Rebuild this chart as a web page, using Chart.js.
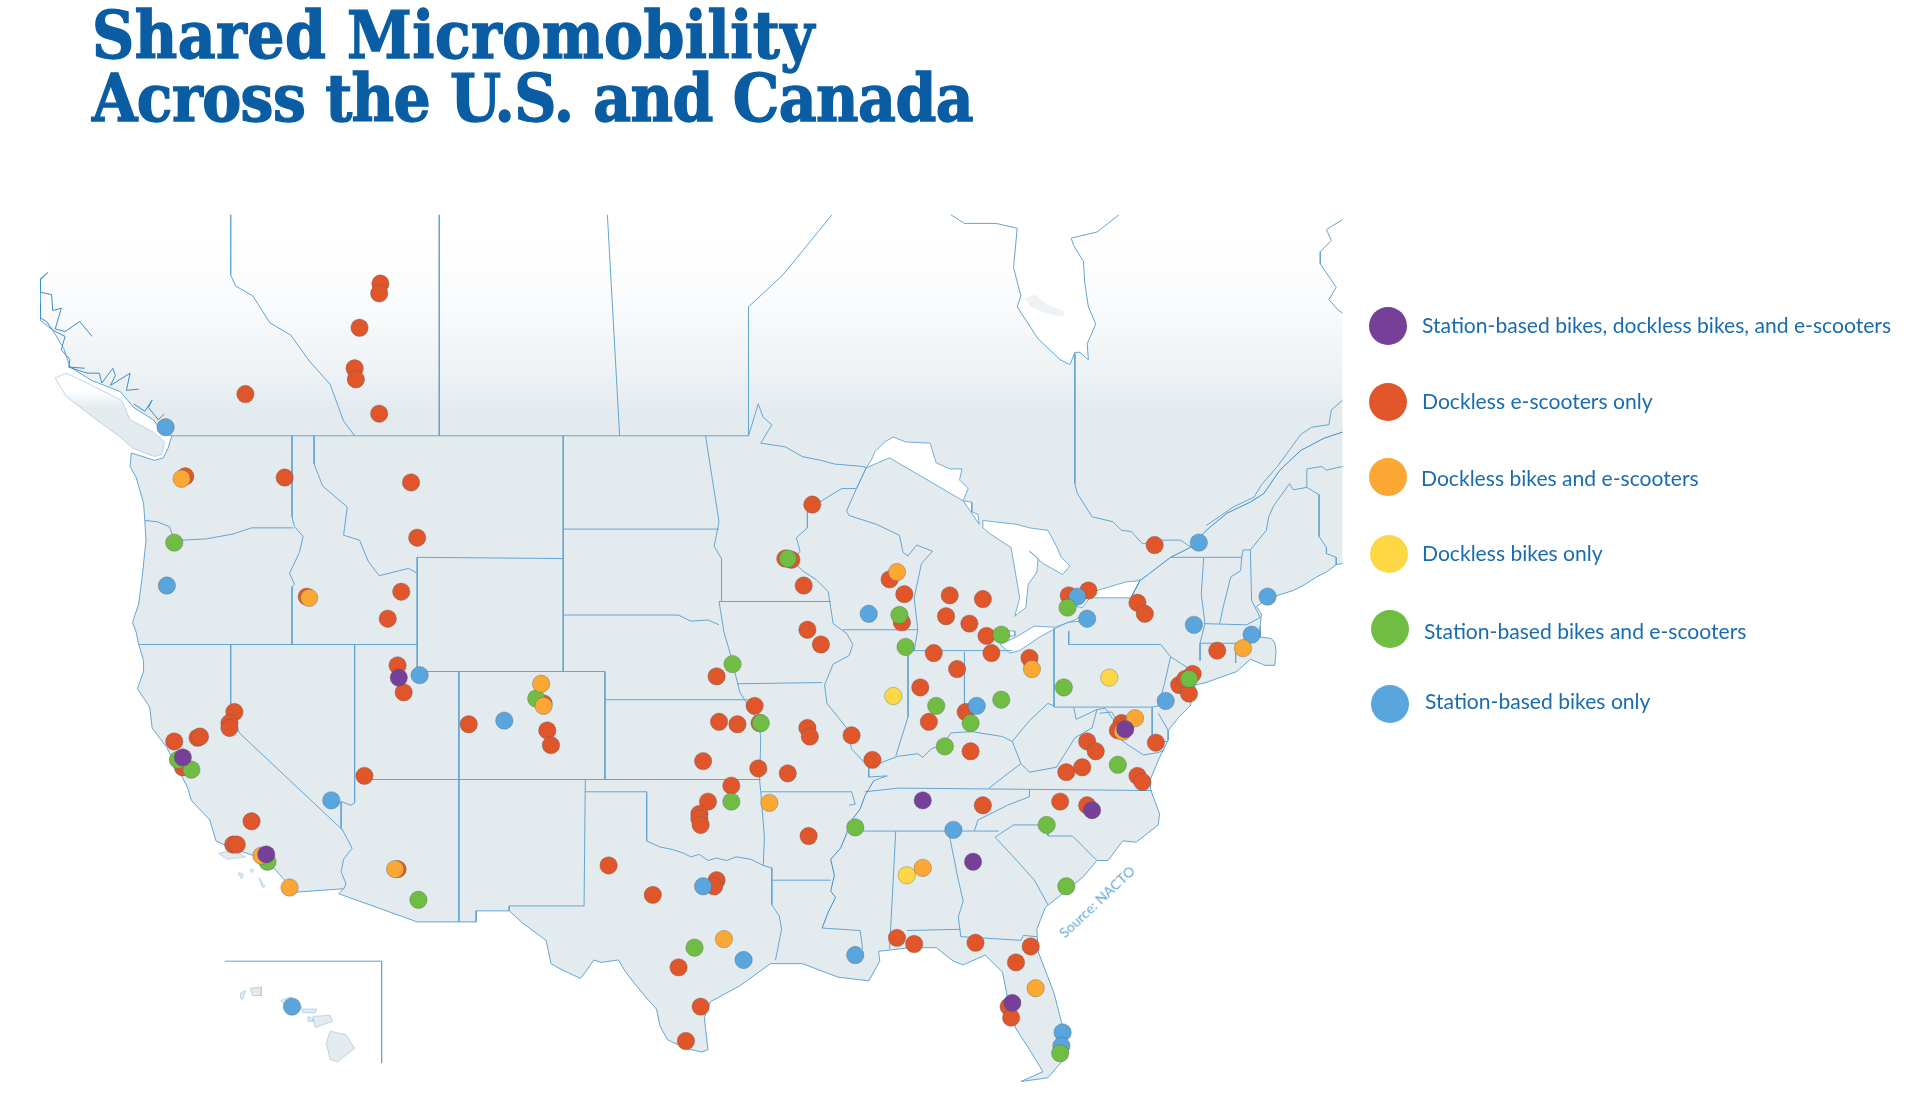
<!DOCTYPE html>
<html>
<head>
  <title>Shared Micromobility Across the U.S. and Canada</title>
  <style>
    html, body { margin: 0; padding: 0; background: #fff; overflow: hidden; }
    #wrap { position: relative; width: 1924px; height: 1095px; }
    canvas { position: absolute; left: 0; top: 0; }
    h1 {
      position: absolute; left: 92px; top: 4px; margin: 0;
      font: bold 65px/63px "DejaVu Serif Condensed", "DejaVu Serif", serif;
      -webkit-text-stroke: 1.3px #0a5da3;
      color: #0a5da3; white-space: nowrap;
    }
    h1 span { display: block; }
    .key { position: absolute; font: 21.1px Lato, sans-serif; color: #1a6cb0; white-space: nowrap; line-height: 38px; }
    .key i { position: absolute; width: 38px; height: 38px; border-radius: 50%; }
    #source {
      position: absolute; left: 1048px; top: 893px; font: 14px Lato, sans-serif; color: #62a8d6;
      transform: rotate(-43deg); transform-origin: center; white-space: nowrap;
    }
  </style>
</head>
<body>
<div id="wrap">
  <canvas id="map" width="1924" height="1095"></canvas>
  <h1><span style="letter-spacing:0.45px">Shared Micromobility</span><span style="letter-spacing:-0.55px">Across the U.S. and Canada</span></h1>
  <div id="legend"></div>
  <div id="source">Source: NACTO</div>
</div>

<script src="https://cdn.jsdelivr.net/npm/chart.js"></script>
<script>
// map units are the picture scaled to 1568 wide
const mapW = 1568, mapH = 892;

// --- categories
const categories = [
  'Station-based bikes, dockless bikes, and e-scooters',
  'Dockless e-scooters only',
  'Dockless bikes and e-scooters',
  'Dockless bikes only',
  'Station-based bikes and e-scooters',
  'Station-based bikes only'
];
const categoryColors = ['#763f98', '#e05529', '#fba733', '#fdd844', '#70bd44', '#58a6dd'];

// --- cities, one list per category
const allThree = [[325,552],[149,617],[217,696],[917,594],[752,652],[890,660],[793,702],[825,817]];
const scootersOnly = [[310,231],[309,239],[293,267],[289,300],[290,309],[309,337],[200,321],
  [151,388],[232,389],[335,393],[340,438],[327,482],[250,486],[316,504],[324,542],[329,564],
  [191,580],[187,589],[187,593],[142,604],[161,601],[163,600],[149,625],[297,632],[205,669],[190,688],[193,688],
  [324,708],[382,590],[443,573],[446,595],[449,607],[496,705],[532,729],[584,717],[582,722],[553,788],[571,820],[559,848],
  [584,551],[586,588],[601,590],[615,575],[619,589],[573,620],[618,626],[642,630],[596,640],[577,653],[570,663],[570,667],[571,672],[659,681],
  [658,593],[660,600],[694,599],[711,619],[662,411],[640,455],[645,456],[655,477],[658,513],[669,525],
  [725,472],[737,484],[735,507],[774,485],[801,488],[771,502],[790,508],[804,518],[761,532],[780,545],[808,532],[839,536],
  [757,588],[787,580],[791,612],[750,560],[801,656],[871,485],[887,481],[927,491],[933,500],[941,444],[992,530],
  [961,558],[966,553],[972,549],[969,565],[914,589],[911,595],[917,592],[886,604],[893,612],[942,605],[869,629],[882,625],
  [927,632],[931,637],[864,653],[886,656],[731,764],[745,769],[795,768],[840,771],[828,784],[822,820],[824,829]];
const docklessBoth = [[148,390],[252,487],[441,557],[443,575],[213,697],[236,723],[322,708],[627,654],[731,466],[841,545],
  [925,585],[915,596],[1013,528],[752,707],[590,765],[844,805]];
const bikesOnly = [[728,567],[904,552],[739,713]];
const stationScooters = [[142,442],[437,569],[145,619],[156,627],[218,702],[341,733],[597,541],[620,589],[596,653],[642,455],
  [733,501],[738,527],[816,517],[870,495],[867,560],[763,575],[816,570],[791,589],[770,608],[911,623],[969,553],[697,674],
  [853,672],[869,722],[566,772],[864,858]];
const stationOnly = [[135,348],[136,477],[342,550],[411,587],[270,652],[238,820],[708,500],[878,486],[886,504],[977,442],
  [1033,486],[973,509],[1020,517],[950,571],[796,575],[777,676],[573,722],[606,782],[697,778],[866,841],[865,852]];

// --- coastline, clockwise from the Maine end to the top of B.C.
const coast = [[1094,459],[1089,460],[1081,466],[1073,470],[1062,477],[1054,481],[1038,486],[1030,490],[1024,494],[1028,500],[1027,510],[1027,519],
  [1036,520],[1039,524],[1040,530],[1039,542],[1031,542],[1019,537],[1008,547],[983,556],[974,558],[970,575],[961,584],[952,595],[952,603],
  [945,617],[937,636],[938,644],[945,663],[944,672],[926,686],[915,685],[903,701],[894,701],[883,714],[866,728],[852,739],[845,757],
  [846,775],[859,809],[868,844],[866,864],[854,878],[832,881],[850,873],[839,855],[828,838],[821,812],[817,792],[803,778],[785,786],
  [777,783],[763,772],[741,772],[716,775],[717,783],[708,799],[683,796],[654,785],[628,785],[603,803],[579,816],[574,829],[577,855],
  [572,857],[559,854],[544,847],[538,836],[535,822],[526,812],[517,801],[510,792],[504,782],[490,784],[484,782],[477,792],[473,797],[458,790],[449,785],[447,775],[445,766],[426,752],[415,742],[388,742],
  [388,751],[340,751],[276,728],[280,724],[238,727],[233,718],[224,708],[207,697],[186,690],[176,685],[171,668],[156,652],[153,642],
  [147,630],[140,617],[136,609],[124,593],[122,576],[112,561],[117,547],[117,538],[113,525],[111,515],[108,507],[113,492],[116,469],
  [119,440],[118,424],[117,410],[111,389],[106,380],[107,369],[126,375],[133,373],[137,365],[140,355],[133,353],[125,342],[109,332],
  [98,319],[75,310],[57,299],[52,284],[43,269],[33,261],[33,228],[39,222]];
const landCorners = [[39,175],[1094,175]];

const vancouverIsland = [[45,308],[54,304],[71,312],[99,326],[106,342],[125,352],[134,360],[132,370],[126,372],[108,365],[98,356],[76,340],[54,323],[45,308]];
const manitoulin = [[809,432],[820,432],[838,434],[836,443],[823,438],[809,432]];
const akimiski = [[835,243],[844,240],[852,247],[868,254],[866,258],[852,255],[840,250],[835,243]];
const hawaii = [
  [[269,840],[282,843],[289,854],[275,865],[269,863],[266,850],[269,840]],
  [[255,828],[269,827],[271,832],[257,837],[255,828]],
  [[229,815],[237,812],[246,821],[237,827],[229,815]],
  [[246,822],[258,822],[257,825],[247,825],[246,822]],
  [[251,828],[255,830],[255,832],[251,832],[251,828]],
  [[204,805],[213,804],[213,811],[206,811],[204,805]],
  [[196,809],[200,807],[198,814],[196,813],[196,809]],
  [[178,695],[190,693],[200,698],[185,700],[178,695]],
  [[194,711],[198,712],[197,716],[194,711]],
  [[204,708],[207,709],[205,711],[204,708]],
  [[211,715],[216,722],[214,723],[211,715]]
];

// --- water on top of the land
const bays = [
  [[1094,179],[1081,187],[1085,196],[1076,205],[1076,215],[1089,234],[1083,244],[1090,252],[1094,255]],
  [[775,175],[786,182],[812,182],[829,186],[826,218],[832,241],[829,250],[846,276],[864,293],[872,297],[876,287],[880,287],[887,293],[886,280],[893,264],[887,250],[884,230],[883,213],[875,200],[873,194],[894,189],[912,175]]
];
const lakes = [
  [[706,381],[710,375],[713,368],[721,360],[728,356],[738,360],[758,361],[763,377],[774,382],[784,382],[782,391],[789,398],[785,408],[792,409],[792,417],[797,419],[798,427],[785,408],[725,373],[706,381]],
  [[801,424],[828,427],[839,430],[854,432],[861,445],[865,454],[872,461],[866,468],[850,459],[839,449],[846,455],[845,466],[838,476],[836,495],[827,502],[831,487],[824,446],[807,435],[801,430],[801,424]],
  [[815,525],[823,532],[831,530],[847,519],[860,512],[870,507],[881,506],[884,500],[876,505],[860,511],[843,510],[828,519],[819,523],[815,525]],
  [[877,494],[884,488],[891,482],[911,476],[918,474],[929,473],[922,487],[888,487],[882,495],[877,494]],
  [[821,514],[827,514],[827,518],[821,518],[821,514]]
];

// --- province and state borders
const borders = [
  [[140,355],[610,355]],
  [[188,175],[188,224],[192,233],[206,241],[220,263],[237,273],[252,294],[269,313],[280,343],[289,355]],
  [[358,175],[358,355]],
  [[495,175],[505,355]],
  [[678,175],[638,224],[610,250],[610,355],[618,329],[622,340],[629,346],[620,361],[640,364],[654,372],[669,375],[680,378],[703,380],[706,381]],
  [[876,288],[876,394],[878,402],[890,421],[907,425],[914,432],[922,433],[931,443],[945,440],[962,440],[971,446]],
  // north shore of the St Lawrence
  [[983,428],[992,422],[1005,413],[1022,405],[1028,395],[1041,380],[1052,365],[1060,354],[1069,348],[1083,346],[1085,334],[1094,326]],
  // Maine, New Brunswick
  [[954,454],[1012,454],[1013,448],[1019,448],[1032,432],[1034,421],[1038,412],[1051,394],[1054,399],[1065,397],[1075,403],[1075,437],[1081,446],[1081,451],[1089,454],[1089,460]],
  [[1065,397],[1065,382],[1077,380],[1081,383],[1094,380]],
  // Northwest
  [[238,355],[238,421],[240,429],[247,437],[244,450],[236,467],[240,476],[238,478],[238,525]],
  [[118,424],[128,425],[138,429],[141,437],[149,440],[168,439],[190,435],[205,430],[239,430]],
  [[113,525],[340,525]],
  [[256,355],[256,378],[263,396],[283,413],[280,436],[293,440],[300,457],[309,469],[333,463],[340,467]],
  [[340,454],[340,547]],
  [[340,454],[459,455]],
  [[459,355],[459,547]],
  [[342,547],[493,547],[493,635]],
  [[289,525],[289,654],[286,656],[278,653],[278,674],[287,691],[280,700],[278,710],[282,720],[280,724]],
  [[188,525],[188,578],[195,597],[279,676]],
  [[297,635],[620,635]],
  [[374,547],[374,751]],
  [[493,570],[610,570]],
  [[459,431],[586,431]],
  [[459,501],[553,501],[563,506],[577,505],[586,509]],
  // Plains
  [[575,355],[580,387],[586,425],[582,445],[588,455],[588,490]],
  [[586,490],[677,490]],
  [[586,490],[590,515],[595,532],[599,548],[603,564],[610,575],[619,590],[620,603],[619,635],[620,645],[623,682],[622,705],[629,707],[629,737],[635,746],[637,757],[632,782]],
  [[601,557],[670,556]],
  [[477,635],[476,738],[415,738],[415,742]],
  [[477,645],[527,645],[527,685],[538,690],[548,692],[557,695],[563,698],[570,696],[577,701],[584,699],[592,701],[600,698],[612,700],[622,705]],
  [[620,645],[694,645],[697,655],[692,656]],
  [[629,717],[677,717]],
  // Upper Midwest
  [[706,381],[698,398],[686,398],[668,409],[658,417],[658,430],[649,438],[652,449],[646,457],[654,465],[665,472],[675,482],[677,495],[679,508],[690,516],[695,525],[692,534],[679,541],[672,558],[674,573],[690,593],[694,610],[708,625],[708,633],[723,632],[712,636]],
  [[687,513],[748,513]],
  [[706,381],[698,398],[690,416],[692,420],[714,427],[733,436],[736,450],[740,453],[747,444],[760,449],[751,459],[745,487],[748,513],[745,530]],
  [[740,530],[825,530]],
  [[740,530],[740,584],[730,616]],
  [[786,531],[786,578]],
  [[708,625],[732,616],[748,614],[752,617],[759,610],[768,607],[775,597],[792,596],[817,600],[825,604],[839,587],[854,573],[859,575]],
  [[825,604],[832,622],[806,642]],
  [[832,622],[839,629],[861,625],[876,601],[890,593],[894,578],[901,577],[907,586]],
  [[859,512],[859,576],[939,576],[939,604],[952,604]],
  [[875,576],[877,586],[894,578]],
  [[871,514],[871,525],[946,525],[954,535],[968,544]],
  [[954,535],[949,557],[944,575],[939,576]],
  [[896,581],[906,580],[911,588],[914,603],[921,608],[932,615],[944,613],[949,611]],
  [[944,581],[952,595]],
  // South
  [[705,645],[732,642],[839,643],[939,644]],
  [[692,677],[814,677]],
  [[794,677],[797,668],[821,656],[839,649],[839,643]],
  [[730,677],[725,773]],
  [[773,677],[781,717],[785,734],[781,747],[783,763]],
  [[739,758],[783,757]],
  [[783,763],[832,766],[834,762],[845,763]],
  [[811,682],[826,672],[854,672],[854,681],[874,681],[894,701]],
  [[811,682],[825,697],[843,717],[854,737]],
  [[670,756],[701,758],[703,773]],
  // New England
  [[981,454],[979,484],[982,508],[978,524],[978,538]],
  [[978,524],[1019,524]],
  [[981,508],[1016,509],[1027,503]],
  [[1007,524],[1007,540]],
  [[1012,454],[1011,465],[1003,470],[997,494],[994,508]],
  [[1019,448],[1020,489],[1027,503]],
  // Hawaii inset frame
  [[183,783],[311,783],[311,866]]
];

// darker lines: the St Lawrence, the Mississippi, the B.C. inlets
const darkLines = [
  [[922,486],[929,473],[937,467],[954,454],[970,446],[983,432],[1000,418],[1019,409],[1030,402],[1043,383],[1060,367],[1079,357],[1094,352]],
  [[712,636],[708,643],[705,648],[701,659],[692,671],[690,679],[685,691],[677,700],[680,713],[677,726],[681,731],[675,743],[670,756]],
  [[39,222],[33,227],[33,238],[42,240],[43,253],[50,251],[45,268],[53,270],[65,262],[75,274]],
  [[33,247],[33,259],[38,262],[43,269],[53,274],[50,285],[57,293],[56,299],[69,300]],
  [[56,299],[71,304],[81,304],[83,312],[92,300],[94,306],[90,314],[106,304],[103,318],[113,317]],
  [[109,329],[118,335],[124,326],[121,332],[129,342],[134,337]]
];

const toPoints = list => list.map(p => ({ x: p[0], y: p[1] }));

const land = '#e4ebef', edge = '#63a6d3', darkEdge = '#3f8fc7';

// land fades out to white towards the north
function fadeFill(ctx) {
  const { chart } = ctx;
  if (!chart.chartArea) return land;
  const y = chart.scales.y;
  const g = chart.ctx.createLinearGradient(0, y.getPixelForValue(195), 0, y.getPixelForValue(333));
  g.addColorStop(0, '#ffffff');
  g.addColorStop(0.35, '#fafbfc');
  g.addColorStop(0.75, '#eff3f5');
  g.addColorStop(1, land);
  return g;
}
// the island stays white until just above the border
function islandFill(ctx) {
  const { chart } = ctx;
  if (!chart.chartArea) return land;
  const y = chart.scales.y;
  const g = chart.ctx.createLinearGradient(0, y.getPixelForValue(318), 0, y.getPixelForValue(332));
  g.addColorStop(0, '#ffffff');
  g.addColorStop(1, land);
  return g;
}

function shape(list, fill, border, width) {
  return {
    data: toPoints(list), showLine: true, pointRadius: 0, fill: 'shape', tension: 0,
    backgroundColor: fill, borderColor: border || 'rgba(0,0,0,0)', borderWidth: width === undefined ? 0.9 : width
  };
}
function line(list, color) {
  return { data: toPoints(list), showLine: true, pointRadius: 0, fill: false, tension: 0, borderColor: color || edge, borderWidth: 1 };
}
function cities(i, list) {
  return {
    label: categories[i], data: toPoints(list), showLine: false,
    pointRadius: 8.7, pointBackgroundColor: categoryColors[i],
    pointBorderColor: 'rgba(90,90,90,0.45)', pointBorderWidth: 0.8
  };
}

// first dataset ends up on top
const datasets = [
  cities(0, allThree),
  cities(3, bikesOnly),
  cities(2, docklessBoth),
  cities(4, stationScooters),
  cities(5, stationOnly),
  cities(1, scootersOnly),
  ...darkLines.map(b => line(b, darkEdge)),
  ...borders.map(b => line(b)),
  ...lakes.map(l => shape(l, '#ffffff', edge)),
  ...bays.map(b => line(b)),
  shape(akimiski, '#eef2f4', null, 0),
  ...bays.map(b => shape(b, '#ffffff', null, 0)),
  shape(manitoulin, land, '#b7d3e6', 0.6),
  ...hawaii.map(h => shape(h, land, '#a9cde6', 0.8)),
  shape(vancouverIsland, islandFill, '#a9cde6', 0.8),
  line(coast),
  shape(landCorners.concat(coast), fadeFill, null, 0)
];

new Chart(document.getElementById('map'), {
  type: 'scatter',
  data: { datasets },
  options: {
    responsive: false,
    animation: false,
    events: [],
    layout: { padding: 0, autoPadding: false },
    plugins: { legend: { display: false }, tooltip: { enabled: false } },
    scales: {
      x: { display: false, min: 0, max: mapW },
      y: { display: false, min: 0, max: mapH, reverse: true }
    }
  }
});

// key on the right, drawn in the picture's own order
const keyDotX = [1369, 1369, 1369, 1370, 1371, 1371];
const keyDotY = [307, 383, 458, 535, 610, 685];
const keyTextX = [1422, 1422, 1421, 1422, 1424, 1425];
const keyTextY = [306, 382, 459, 534, 612, 682];
const legend = document.getElementById('legend');
categories.forEach((name, i) => {
  const row = document.createElement('div');
  row.className = 'key';
  row.style.left = keyTextX[i] + 'px';
  row.style.top = keyTextY[i] + 'px';
  row.textContent = name;
  const dot = document.createElement('i');
  dot.style.background = categoryColors[i];
  dot.style.left = (keyDotX[i] - keyTextX[i]) + 'px';
  dot.style.top = (keyDotY[i] - keyTextY[i]) + 'px';
  row.appendChild(dot);
  legend.appendChild(row);
});
</script>
</body>
</html>
